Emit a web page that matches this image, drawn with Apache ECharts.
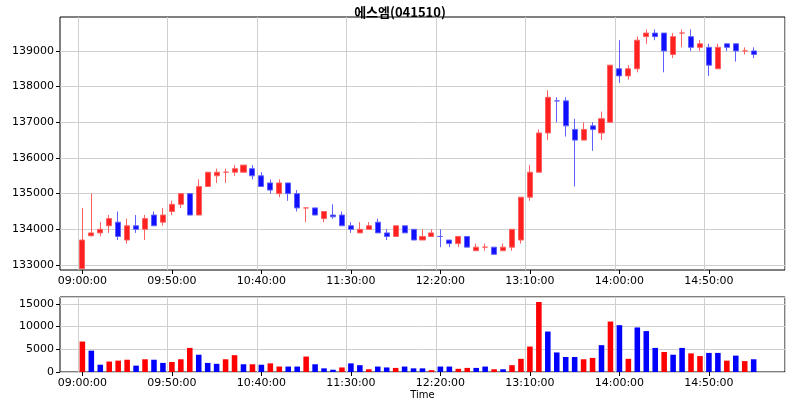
<!DOCTYPE html>
<html>
<head>
<meta charset="utf-8">
<script src="https://cdn.jsdelivr.net/npm/echarts@6/dist/echarts.min.js"></script>
<style>html,body{margin:0;background:#fff}#main{width:800px;height:401px}</style>
</head>
<body>
<div id="main"></div>
<script>
// 5분봉 시간 (09:00 ~ 15:15)
var times = [];
for (var m = 0; m < 76; m++) {
	var t = 9 * 60 + m * 5;
	var hh = Math.floor(t / 60), mm = t % 60;
	times.push((hh < 10 ? '0' : '') + hh + ':' + (mm < 10 ? '0' : '') + mm + ':00');
}
// [open, close, low, high]
var ohlc = [
	[132900,133700,132900,134600],[133820,133900,133800,135000],[133900,134000,133800,134200],[134100,134300,133900,134400],
	[134200,133800,133700,134500],[133700,134100,133600,134300],[134100,134000,133900,134400],[134000,134300,133700,134400],
	[134400,134100,134100,134500],[134200,134400,134100,134600],[134500,134700,134400,134800],[134700,135000,134600,135000],
	[135000,134400,134400,135000],[134400,135200,134400,135400],[135200,135600,135200,135600],[135500,135600,135300,135700],
	[135600,135600,135300,135700],[135600,135700,135500,135800],[135600,135800,135600,135800],[135700,135500,135400,135800],
	[135500,135200,135200,135600],[135300,135100,135000,135400],[135000,135300,134900,135400],[135300,135000,134800,135300],
	[135000,134600,134500,135100],[134600,134600,134200,134600],[134600,134400,134400,134600],[134300,134500,134200,134500],
	[134400,134350,134300,134700],[134400,134100,134100,134500],[134100,134000,133900,134200],[133900,134000,133900,134200],
	[134000,134100,134000,134200],[134200,133900,133900,134300],[133900,133800,133700,134000],[133800,134100,133800,134100],
	[134100,133900,133900,134100],[134000,133700,133700,134000],[133700,133800,133700,134000],[133800,133900,133800,134000],
	[133800,133800,133500,134000],[133700,133600,133500,133700],[133600,133800,133500,133800],[133800,133500,133500,133800],
	[133400,133500,133400,133600],[133500,133500,133400,133600],[133500,133300,133300,133500],[133400,133500,133400,133600],
	[133500,134000,133400,134000],[133700,134900,133600,134900],[134900,135600,134800,135800],[135600,136700,135600,136800],
	[136700,137700,136500,137900],[137600,137600,137000,137700],[137600,136900,136600,137700],[136800,136500,135200,137100],
	[136500,136800,136500,137000],[136900,136800,136200,137000],[136700,137100,136500,137300],[137000,138600,137000,138600],
	[138500,138300,138100,139300],[138300,138500,138200,138600],[138500,139300,138400,139400],[139400,139500,139200,139600],
	[139500,139400,139300,139600],[139500,139000,138400,139500],[138900,139400,138800,139500],[139500,139500,139100,139600],
	[139400,139100,139000,139600],[139100,139200,139000,139300],[139100,138600,138300,139200],[138500,139100,138500,139200],
	[139200,139100,139000,139200],[139200,139000,138700,139200],[139000,139000,138900,139100],[139000,138900,138800,139100]
];
var volumes = [
	6700,4700,1600,2300,2500,2700,1400,2800,2700,2000,
	2200,2800,5300,3800,2000,1800,2800,3700,1700,1700,
	1600,1900,1200,1200,1200,3400,1700,800,500,1000,
	1900,1500,600,1200,1000,900,1200,800,800,400,
	1200,1200,700,900,900,1200,600,600,1500,2900,
	5600,15400,8900,4300,3300,3300,2800,3100,5900,11100,
	10300,2900,9800,9000,5300,4400,3800,5300,4100,3500,
	4200,4200,2500,3600,2400,2800
];
// 거래량 막대 색 (1: 빨강, 0: 파랑)
var volUp = [
	1,0,0,1,1,1,0,1,0,0, 1,1,1,0,0,0,1,1,0,1,
	0,1,1,0,0,1,0,0,0,1, 0,0,1,0,0,1,0,0,0,1,
	0,0,1,1,0,0,1,0,1,1, 1,1,0,0,0,0,1,1,0,1,
	0,1,0,0,0,1,0,0,1,1, 0,0,1,0,1,0
];
var priceTicks = [133000,134000,135000,136000,137000,138000,139000];

var PAD_L = 2, PAD_R = 3;
var cats = [], candles = [], vols = [];
for (var i = 0; i < PAD_L; i++) { cats.push('p' + i); candles.push('-'); vols.push('-'); }
for (var i = 0; i < times.length; i++) {
	cats.push(times[i]);
	candles.push(ohlc[i]);
	vols.push({value: volumes[i], itemStyle: {color: volUp[i] ? '#ff0000' : '#0000ff'}});
}
for (var i = 0; i < PAD_R; i++) { cats.push('q' + i); candles.push('-'); vols.push('-'); }

var font = 'DejaVu Sans';
function showLabel(idx) {
	var k = idx - PAD_L;
	return k >= 0 && k < times.length && k % 10 === 0;
}
function plain(v) { return String(v); }
function xAxisOf(gi) {
	return {
		type: 'category', gridIndex: gi, data: cats, boundaryGap: true,
		axisLine: {show: false},
		axisTick: {show: true, alignWithLabel: true, interval: showLabel, lineStyle: {color: '#000'}, length: 4},
		axisLabel: {interval: showLabel, color: '#000', fontFamily: font, fontSize: 11, margin: 6},
		splitLine: {show: true, interval: showLabel, lineStyle: {color: '#cfcfcf'}}
	};
}

var chart = echarts.init(document.getElementById('main'));
chart.setOption({
	animation: false,
	title: {text: '에스엠(041510)', left: 'center', top: 1, textStyle: {fontFamily: 'Noto Sans CJK KR', fontSize: 13, fontWeight: 'bold', color: '#000'}},
	grid: [
		{left: 60, right: 15, top: 17, height: 253, show: true, borderColor: '#000', borderWidth: 1},
		{left: 60, right: 15, top: 297, height: 77, show: true, borderColor: '#000', borderWidth: 1}
	],
	xAxis: [xAxisOf(0), Object.assign(xAxisOf(1), {name: 'Time', nameLocation: 'middle', nameGap: 18, nameTextStyle: {fontFamily: font, fontSize: 10, color: '#000'}})],
	yAxis: [
		{type: 'value', gridIndex: 0, min: 132860, max: 139950, scale: true,
			axisLine: {show: false},
			axisTick: {show: true, customValues: priceTicks, lineStyle: {color: '#000'}, length: 4},
			axisLabel: {customValues: priceTicks, formatter: plain, color: '#000', fontFamily: font, fontSize: 11, margin: 6},
			splitLine: {show: true, lineStyle: {color: '#cfcfcf'}}},
		{type: 'value', gridIndex: 1, min: 0, max: 16500, interval: 5000,
			axisLine: {show: false},
			axisTick: {show: true, lineStyle: {color: '#000'}, length: 4},
			axisLabel: {formatter: plain, color: '#000', fontFamily: font, fontSize: 11, margin: 6, showMaxLabel: false},
			splitLine: {show: true, lineStyle: {color: '#cfcfcf'}}}
	],
	series: [
		{type: 'candlestick', xAxisIndex: 0, yAxisIndex: 0, data: candles, barWidth: '62%',
			itemStyle: {color: '#ff2020', color0: '#1010ff', borderColor: '#ff6060', borderColor0: '#6060ff', borderWidth: 1}},
		{type: 'bar', xAxisIndex: 1, yAxisIndex: 1, data: vols, barWidth: '62%'}
	]
});
</script>
</body>
</html>
